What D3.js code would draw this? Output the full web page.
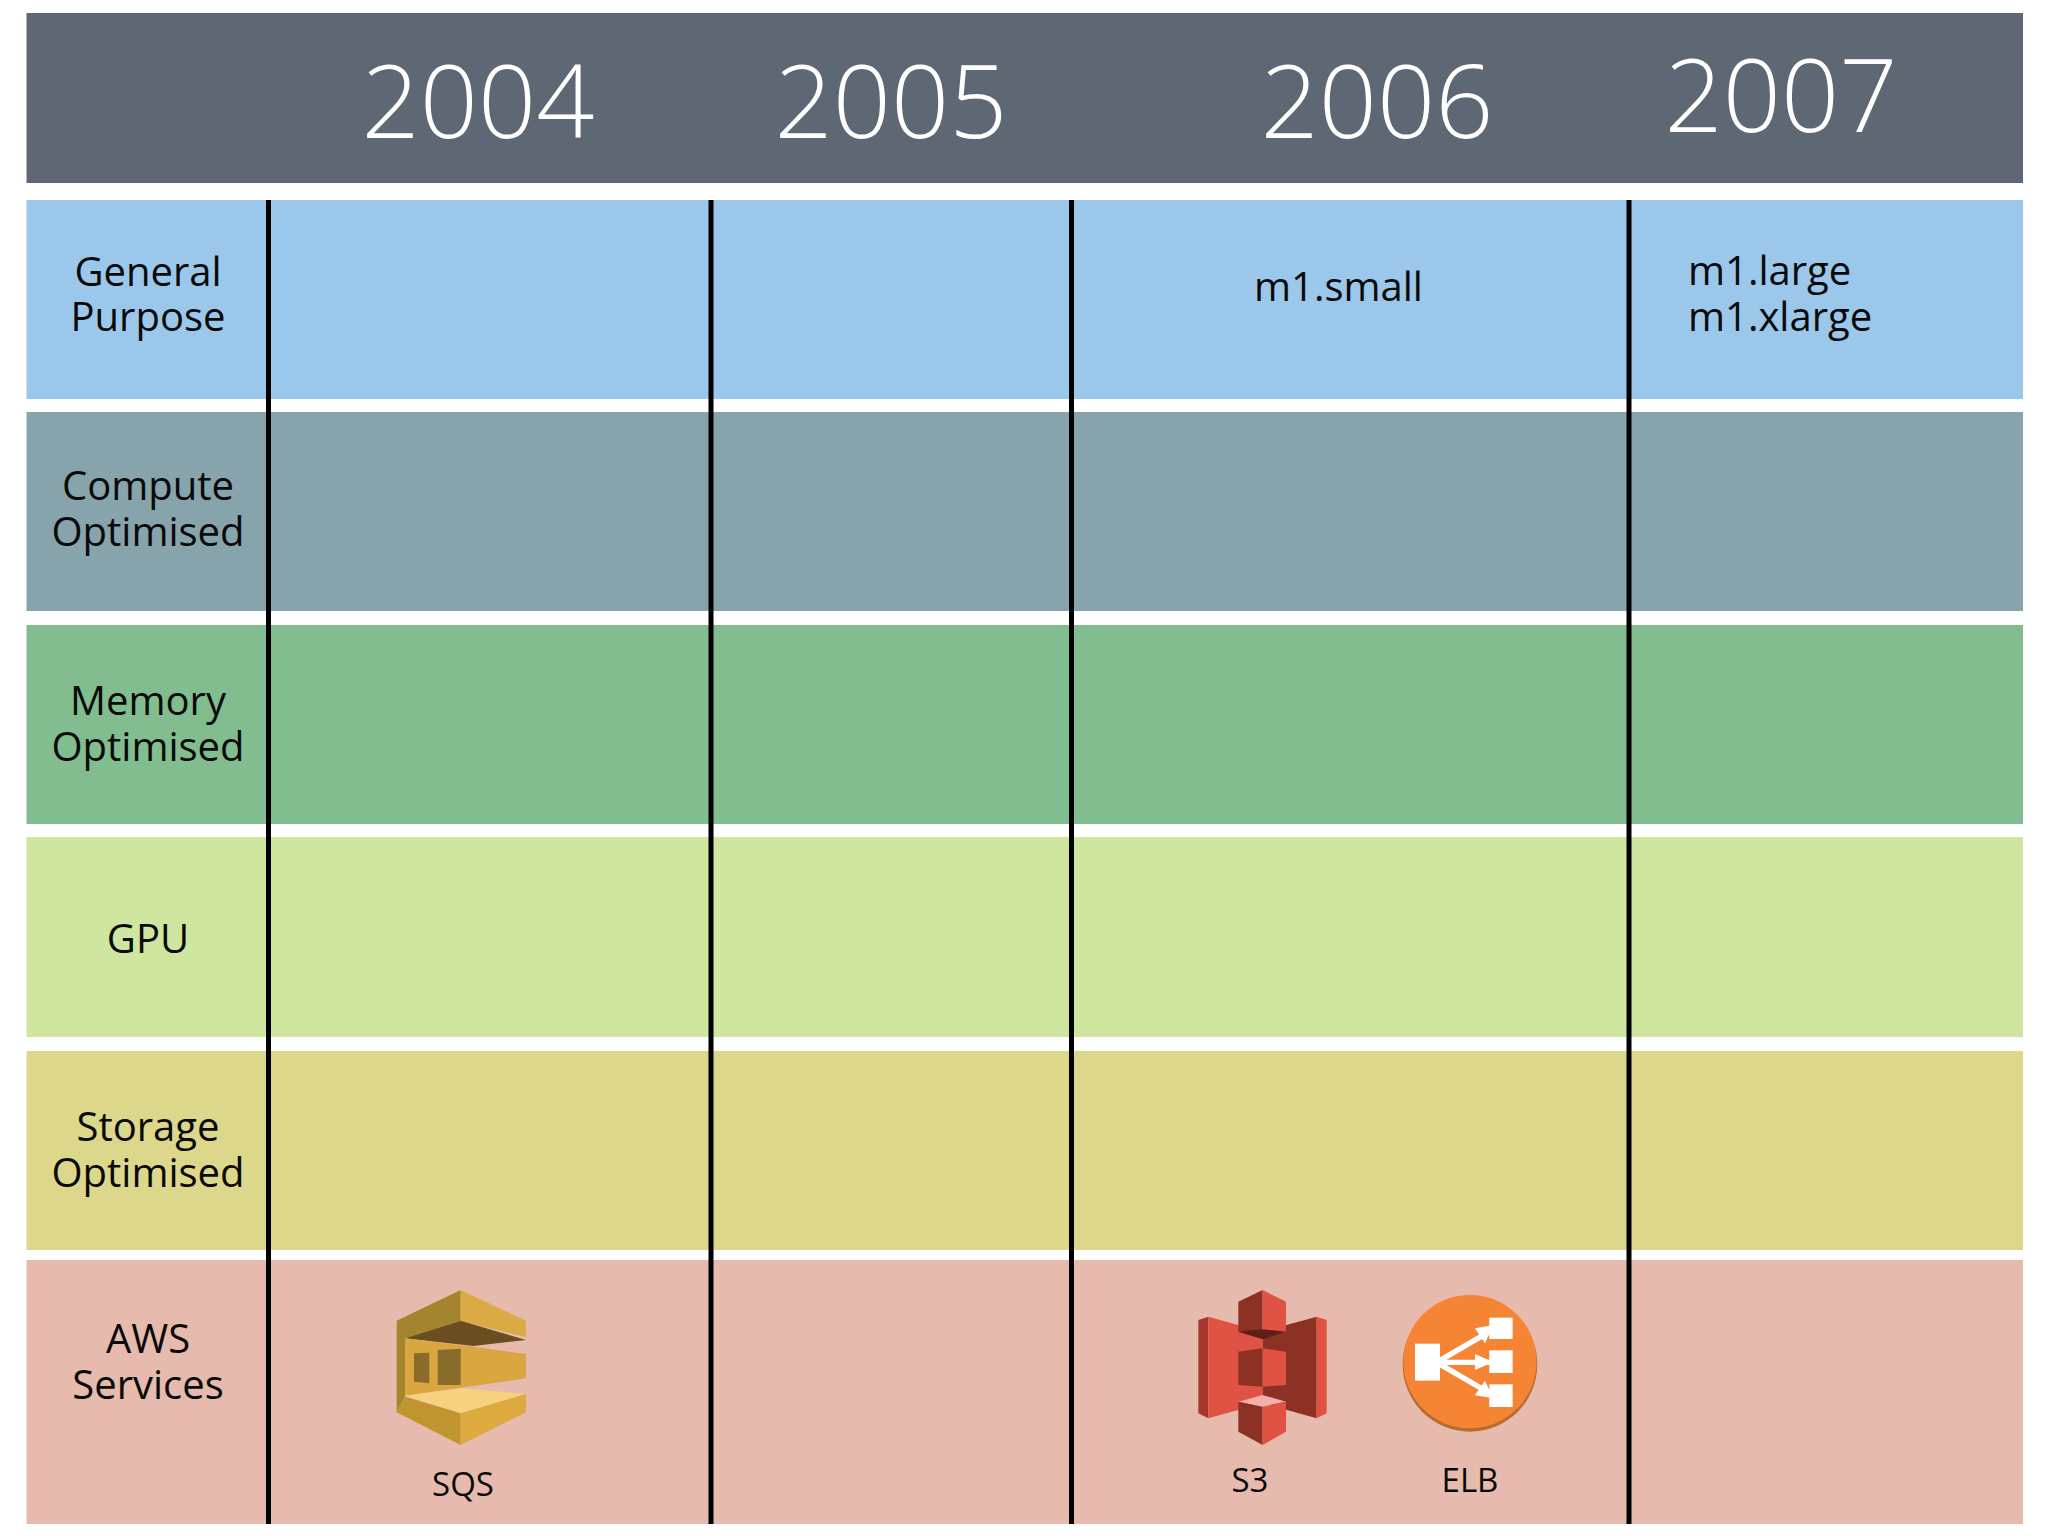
<!DOCTYPE html>
<html>
<head>
<meta charset="utf-8">
<script src="https://cdn.jsdelivr.net/npm/d3@7"></script>
<style>
  html, body { margin: 0; padding: 0; background: #fff; }
  svg { display: block; }
  text { font-family: "Open Sans", sans-serif; fill: #0a0a0a; }
</style>
</head>
<body>
<div id="chart"></div>
<script>
const years = ["2004", "2005", "2006", "2007"];
const rowNames = ["General Purpose", "Compute Optimised", "Memory Optimised", "GPU", "Storage Optimised", "AWS Services"];
const rowLines = [["General", "Purpose"], ["Compute", "Optimised"], ["Memory", "Optimised"], ["GPU"], ["Storage", "Optimised"], ["AWS", "Services"]];
const instanceYears = ["2006", "2007"];
const instanceNames = [["m1.small"], ["m1.large", "m1.xlarge"]];
const serviceNames = ["SQS", "S3", "ELB"];

const width = 2048;
const height = 1536;
const left = 26.5;
const right = 2023;
const lineGap = 45.5;

const svg = d3.select("#chart").append("svg")
    .attr("width", width)
    .attr("height", height);

// columns are not evenly spaced in the picture
const x = d3.scaleOrdinal().domain(years).range([268.5, 711, 1071.5, 1629]);
const yearX = d3.scaleOrdinal().domain(years).range([478, 891, 1377, 1781]);
const yearY = d3.scaleOrdinal().domain(years).range([138, 138, 138, 132]);
const rowTop = d3.scaleOrdinal().domain(rowNames).range([200, 412, 625, 837, 1051, 1260]);
const rowBottom = d3.scaleOrdinal().domain(rowNames).range([399, 611, 824, 1037, 1250, 1524]);
const rowLabelY = d3.scaleOrdinal().domain(rowNames).range([285.5, 500, 715, 952.5, 1141, 1353]);
const rowColor = d3.scaleOrdinal().domain(rowNames)
    .range(["#9ac7ea", "#87a3ac", "#82bd90", "#cee69f", "#ddd78b", "#e6bbae"]);
const instanceX = d3.scaleOrdinal().domain(instanceYears).range([1254, 1688]);
const instanceY = d3.scaleOrdinal().domain(instanceYears).range([301, 285]);
const serviceX = d3.scaleOrdinal().domain(serviceNames).range([463, 1250, 1470]);
const serviceY = d3.scaleOrdinal().domain(serviceNames).range([1496, 1492, 1492]);

svg.append("rect")
    .attr("x", left).attr("y", 13)
    .attr("width", right - left).attr("height", 170)
    .attr("fill", "#5e6875");

svg.selectAll(".year")
    .data(years)
    .join("text")
    .attr("class", "year")
    .attr("x", d => yearX(d))
    .attr("y", d => yearY(d))
    .attr("text-anchor", "middle")
    .style("font-size", "102px")
    .style("font-weight", 300)
    .style("fill", "#fff")
    .text(d => d);

svg.selectAll(".row")
    .data(rowNames)
    .join("rect")
    .attr("class", "row")
    .attr("x", left)
    .attr("y", d => rowTop(d))
    .attr("width", right - left)
    .attr("height", d => rowBottom(d) - rowTop(d))
    .attr("fill", d => rowColor(d));

svg.selectAll(".divider")
    .data(years)
    .join("line")
    .attr("class", "divider")
    .attr("x1", d => x(d))
    .attr("x2", d => x(d))
    .attr("y1", 200)
    .attr("y2", 1524)
    .attr("stroke", "#000")
    .attr("stroke-width", 5);

svg.selectAll(".rowlabel")
    .data(rowNames)
    .join("text")
    .attr("class", "rowlabel")
    .attr("text-anchor", "middle")
    .style("font-size", "40px")
    .each(function(d, i) {
        d3.select(this).selectAll("tspan")
            .data(rowLines[i])
            .join("tspan")
            .attr("x", 148)
            .attr("y", (l, j) => rowLabelY(d) + j * lineGap)
            .text(l => l);
    });

// instance types listed inside their year cell
svg.selectAll(".instance")
    .data(instanceYears)
    .join("text")
    .attr("class", "instance")
    .style("font-size", "40px")
    .each(function(d, i) {
        d3.select(this).selectAll("tspan")
            .data(instanceNames[i])
            .join("tspan")
            .attr("x", instanceX(d))
            .attr("y", (l, j) => instanceY(d) + j * lineGap)
            .text(l => l);
    });

svg.selectAll(".service")
    .data(serviceNames)
    .join("text")
    .attr("class", "service")
    .attr("x", d => serviceX(d))
    .attr("y", d => serviceY(d))
    .attr("text-anchor", "middle")
    .style("font-size", "33px")
    .text(d => d);

function drawPolys(parent, polys) {
    parent.selectAll("polygon")
        .data(polys)
        .join("polygon")
        .attr("points", d => d[1].map(p => p.join(",")).join(" "))
        .attr("fill", d => d[0]);
}

// icons, coordinates in 3x pixels
const sqs = svg.append("g").attr("transform", "translate(340,1250) scale(0.3333)");
drawPolys(sqs, [
    ["#a5842f", [[170,212],[362,120],[362,212],[195,265],[195,440],[170,487]]],
    ["#dcaa45", [[362,120],[558,212],[558,262],[362,212]]],
    ["#6b4e20", [[195,265],[362,212],[558,270],[400,288]]],
    ["#d9a640", [[195,265],[400,290],[558,312],[558,385],[400,408],[195,437]]],
    ["#8a6c2a", [[222,310],[268,308],[268,400],[222,395]]],
    ["#8a6c2a", [[293,300],[362,296],[362,405],[293,405]]],
    ["#f6d27f", [[195,437],[362,415],[558,432],[362,490]]],
    ["#c0942f", [[170,487],[195,440],[362,490],[362,585]]],
    ["#ddaa3f", [[362,490],[558,432],[558,487],[362,585]]]
]);

const s3 = svg.append("g").attr("transform", "translate(1150,1250) scale(0.3333)");
drawPolys(s3, [
    ["#a5362b", [[145,210],[175,200],[175,505],[145,490]]],
    ["#e05243", [[175,200],[338,245],[338,460],[175,505]]],
    ["#8c3123", [[338,245],[500,200],[500,505],[338,460]]],
    ["#e05243", [[500,200],[530,210],[530,490],[500,505]]],
    ["#8c3123", [[265,155],[338,120],[338,265],[265,245]]],
    ["#e05243", [[338,120],[408,155],[408,245],[338,265]]],
    ["#5e2016", [[265,245],[338,238],[408,245],[338,268]]],
    ["#8c3123", [[265,305],[338,295],[338,410],[265,405]]],
    ["#e05243", [[338,295],[408,305],[408,405],[338,410]]],
    ["#f2b0a9", [[265,455],[338,435],[408,455],[338,470]]],
    ["#8c3123", [[265,455],[338,470],[338,585],[265,545]]],
    ["#e05243", [[338,470],[408,455],[408,545],[338,585]]]
]);

const elb = svg.append("g").attr("transform", "translate(1150,1250) scale(0.3333)");
elb.append("circle").attr("cx", 960).attr("cy", 343).attr("r", 202).attr("fill", "#b96a2e");
elb.append("circle").attr("cx", 960).attr("cy", 335).attr("r", 200).attr("fill", "#f58535");
elb.selectAll("line")
    .data([[860,337,1030,238],[860,337,1030,337],[860,337,1030,436]])
    .join("line")
    .attr("x1", d => d[0]).attr("y1", d => d[1])
    .attr("x2", d => d[2]).attr("y2", d => d[3])
    .attr("stroke", "#fff").attr("stroke-width", 16);
elb.selectAll("rect")
    .data([[795,281,75,111],[1018,203,70,64],[1018,301,70,68],[1018,403,70,68]])
    .join("rect")
    .attr("x", d => d[0]).attr("y", d => d[1])
    .attr("width", d => d[2]).attr("height", d => d[3])
    .attr("fill", "#fff");
drawPolys(elb.append("g"), [
    ["#fff", [[1030,225],[975,235],[1005,280]]],
    ["#fff", [[1030,336],[975,312],[975,360]]],
    ["#fff", [[1030,445],[1005,392],[975,436]]]
]);
</script>
</body>
</html>
